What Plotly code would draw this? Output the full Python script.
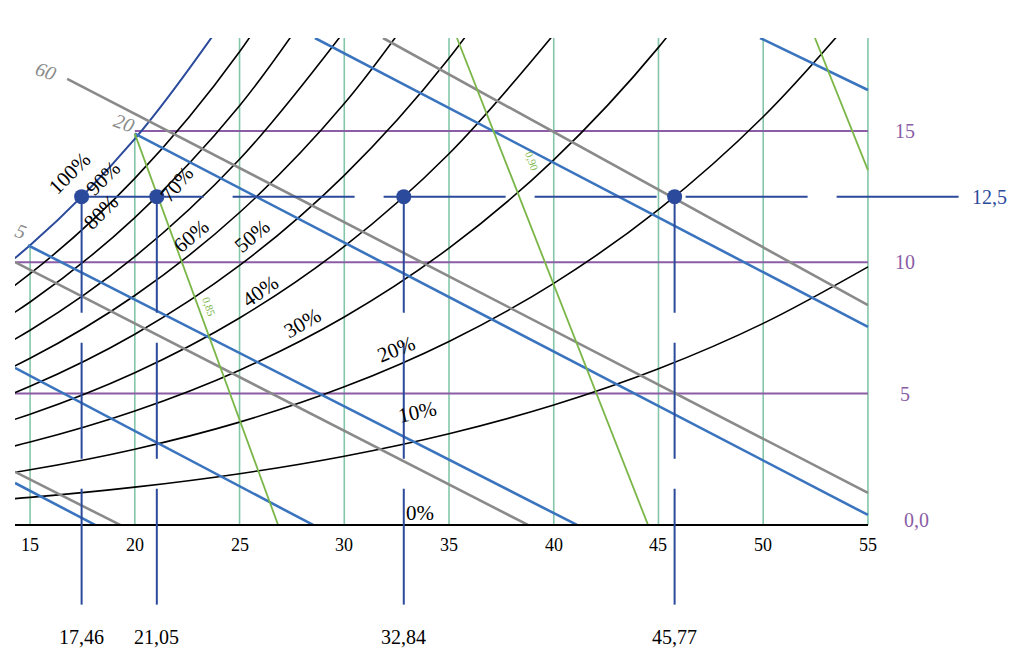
import plotly.graph_objects as go

# saturation pressure table (kPa) and chart levels
temps = [10, 15, 20, 25, 30, 35, 40, 45, 50, 55]
p_sat = [1.228, 1.705, 2.339, 3.169, 4.246, 5.628, 7.384, 9.593, 12.35, 15.76]
rh_levels = [100, 90, 80, 70, 60, 50, 40, 30, 20, 10]
p_atm = 101.325

x_ticks = [15, 20, 25, 30, 35, 40, 45, 50, 55]
w_lines = [5, 10, 15]
w_line_start = [14.28, 14.28, 20.0]

# straight lines: (t1, w1, t2, w2)
blue_lines = [(14.28, 1.60, 18.10, 0.0), (14.28, 5.98, 28.51, 0.0), (14.9, 10.65, 41.11, 0.0),
              (20.0, 14.9, 55.0, 0.38), (28.60, 18.54, 55.0, 7.54), (49.85, 18.54, 55.0, 16.56)]
gray_lines = [(14.28, 2.02, 19.30, 0.0), (14.28, 10.01, 38.77, 0.0),
              (16.77, 16.98, 55.0, 1.22), (31.85, 18.54, 55.0, 8.37)]
green_lines = [(20.0, 14.9, 26.84, 0.0), (35.38, 18.54, 44.50, 0.0), (52.47, 18.54, 55.0, 13.51)]
teal_tops = [10.65, 14.9, 18.54, 18.54, 18.54, 18.54, 18.54, 18.54, 18.54]

points_t = [17.46, 21.05, 32.84, 45.77]
point_w = 12.5
point_labels = ['17,46', '21,05', '32,84', '45,77']

X0, X1 = 14.28, 62.45
Y0, Y1 = -5.18, 18.54

BLUE = '#3B74BE'
DARK = '#2B4A9B'
GRAY = '#8A8A8A'
GREEN = '#7AB648'
TEAL = '#84C6AA'
PURPLE = '#8B5DA6'
SERIF = 'Liberation Serif, Times New Roman, serif'

fig = go.Figure()

def seg(x, y, color, width, dash='solid'):
    fig.add_trace(go.Scatter(x=x, y=y, mode='lines', line=dict(color=color, width=width, dash=dash),
                             hoverinfo='skip', showlegend=False))

for t, top in zip(x_ticks, teal_tops):
    seg([t, t], [0, top], TEAL, 1.6)
for w, s in zip(w_lines, w_line_start):
    seg([s, 55], [w, w], PURPLE, 2)

# relative humidity curves
for rh in rh_levels:
    xs, ys = [], []
    for t, ps in zip(temps, p_sat):
        pv = rh / 100 * ps
        w = 622 * pv / (p_atm - pv)
        xs.append(t)
        ys.append(w)
        if w > Y1:
            break
    fig.add_trace(go.Scatter(x=xs, y=ys, mode='lines',
                             line=dict(color=DARK if rh == 100 else 'black',
                                       width=2 if rh == 100 else 1.6, shape='spline'),
                             hoverinfo='skip', showlegend=False))

for l in gray_lines:
    seg([l[0], l[2]], [l[1], l[3]], GRAY, 2.6)
for l in blue_lines:
    seg([l[0], l[2]], [l[1], l[3]], BLUE, 2.6)
for l in green_lines:
    seg([l[0], l[2]], [l[1], l[3]], GREEN, 1.8)

seg([X0, 55], [0, 0], 'black', 2)

# construction lines
seg([points_t[0], 59.39], [point_w, point_w], DARK, 2, '122px,29px')
for t in points_t:
    seg([t, t], [point_w, -3.30], DARK, 2, '116px,30px')
fig.add_trace(go.Scatter(x=points_t, y=[point_w] * 4, mode='markers',
                         marker=dict(color=DARK, size=15), hoverinfo='skip', showlegend=False))

ann = []
def txt(x, y, s, size=17, color='black', angle=0, italic=False):
    ann.append(dict(x=x, y=y, text=('<i>%s</i>' % s) if italic else s, showarrow=False,
                    textangle=angle, font=dict(family=SERIF, size=size, color=color)))

for t in x_ticks:
    txt(t, -0.75, str(t), 18)
for t, s in zip(points_t, point_labels):
    txt(t, -4.25, s, 20)
for w in w_lines:
    txt(56.75, w, str(w), 20, PURPLE)
txt(57.3, 0.2, '0,0', 20, PURPLE)
txt(60.8, 12.5, '12,5', 20, DARK)

rh_labels = [('100%', 16.9, 13.4, -45), ('90%', 18.5, 13.2, -45), ('80%', 18.4, 11.9, -45),
             ('70%', 22.0, 13.0, -50), ('60%', 22.7, 11.0, -40), ('50%', 25.6, 11.0, -40),
             ('40%', 26.0, 8.9, -35), ('30%', 28.0, 7.7, -30), ('20%', 32.5, 6.7, -22),
             ('10%', 33.5, 4.3, -12), ('0%', 33.6, 0.45, 0)]
for s, x, y, a in rh_labels:
    txt(x, y, s, 21, 'black', a)

txt(15.75, 17.3, '60', 20, GRAY, 20, True)
txt(19.5, 15.3, '20', 20, GRAY, 20, True)
txt(14.55, 11.2, '5', 20, GRAY, 20, True)
txt(23.55, 8.3, '0,85', 11, GREEN, 70)
txt(38.95, 13.85, '0,90', 11, GREEN, 70)

fig.update_layout(
    width=1016, height=653,
    margin=dict(l=7, r=0, t=30, b=0),
    paper_bgcolor='white', plot_bgcolor='white',
    xaxis=dict(range=[X0, X1], visible=False),
    yaxis=dict(range=[Y0, Y1], visible=False),
    annotations=ann,
)
fig.write_html("out.html")
